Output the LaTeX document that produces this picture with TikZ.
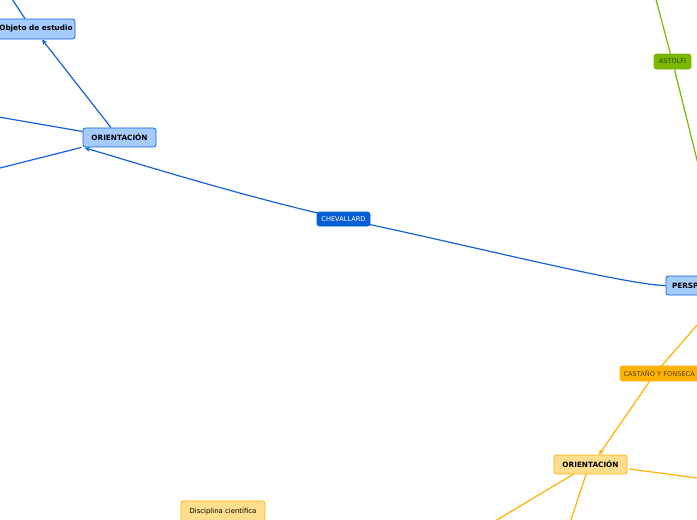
\documentclass[tikz,border=0pt]{standalone}
\usepackage{fontspec}
\setmainfont{DejaVu Sans}
\usetikzlibrary{arrows.meta,backgrounds}
\definecolor{azul}{RGB}{18,99,214}
\definecolor{azulclaro}{RGB}{166,203,255}
\definecolor{azuloscuro}{RGB}{5,95,214}
\definecolor{verde}{RGB}{122,184,0}
\definecolor{verdetexto}{RGB}{48,70,0}
\definecolor{naranja}{RGB}{255,178,0}
\definecolor{naranjaclaro}{RGB}{255,222,142}
\definecolor{naranjatexto}{RGB}{85,62,10}
\tikzset{
    caja/.style={rounded corners=2.5pt, line width=0.8pt, inner sep=0pt,
      font=\fontsize{6.6}{7}\selectfont},
    tema/.style={caja, draw=#1, minimum width=73pt, minimum height=19pt,
      font=\fontsize{7.3}{8}\selectfont\bfseries},
    etiqueta/.style={caja, fill=#1, draw=#1, minimum height=15pt},
    linea/.style={line width=1.2pt, draw=#1},
    flecha/.style={linea=#1, -{Stealth[length=5.5pt,width=5pt]}}
}
\begin{document}
\begin{tikzpicture}[x=1pt,y=-1pt]
    \useasboundingbox (0,0) rectangle (697,520);
    \clip (0,0) rectangle (697,520);
    \node[tema=azul, fill=azulclaro, minimum width=78pt, minimum height=20pt] (objeto) at (36,29) {Objeto de estudio};
    \node[tema=azul, fill=azulclaro] (orientA) at (119.5,137.5) {ORIENTACIÓN};
    \node[etiqueta=azuloscuro, text=white, minimum width=53pt, minimum height=14pt] (chev) at (343.5,219) {CHEVALLARD};
    \node[tema=azul, fill=azulclaro, minimum width=100pt, text width=88pt] (persp) at (716,285.5) {PERSPECTIVAS};
    \node[etiqueta=verde, text=verdetexto, minimum width=37pt] (astolfi) at (672.5,61.5) {ASTOLFI};
    \node[etiqueta=naranja, text=naranjatexto, minimum width=84pt, text width=77pt] (castano) at (662,373.5) {CASTAÑO Y FONSECA};
    \node[tema=naranja, fill=naranjaclaro] (orientB) at (590.5,464.5) {ORIENTACIÓN};
    \node[caja, draw=naranja, fill=naranjaclaro, minimum width=84pt, minimum height=21pt, font=\fontsize{6.9}{8}\selectfont] (disc) at (223,511.5) {Disciplina científica};
    \coordinate (arriba) at (6,-10);
    \coordinate (izq1) at (-10,115.5);
    \coordinate (izq2) at (-10,170.5);
    \coordinate (verde1) at (653.5,-10);
    \coordinate (verde2) at (702,180);
    \coordinate (nar1) at (712,308);
    \coordinate (nar2) at (720,481);
    \coordinate (nar3) at (480,530);
    \coordinate (nar4) at (567,532);
    \begin{scope}[on background layer]
      \draw[linea=azul] ([xshift=-11pt]objeto.north) -- (arriba);
      \draw[flecha=azul] ([xshift=-8.5pt]orientA.north) -- ([xshift=6pt]objeto.south);
      \draw[linea=azul] (izq1) -- ([yshift=6pt]orientA.west);
      \draw[linea=azul] (izq2) -- ([xshift=-1pt]orientA.south west);
      \draw[flecha=azul] (persp.west) .. controls (625,285) and (460,243) .. (chev.center)
        .. controls (240,196) and (120,158) .. ([xshift=2pt,yshift=-0.5pt]orientA.south west);
      \draw[linea=verde] (verde1) -- (astolfi) -- (verde2);
      \draw[flecha=naranja] (nar1) -- ([xshift=-7pt]castano.center) -- ([xshift=8.5pt]orientB.north);
      \draw[linea=naranja] ([xshift=2pt,yshift=-4.5pt]orientB.east) -- (nar2);
      \draw[linea=naranja] ([xshift=-17.5pt]orientB.south) -- (nar3);
      \draw[linea=naranja] ([xshift=-4.5pt]orientB.south) -- (nar4);
    \end{scope}
\end{tikzpicture}
\end{document}
